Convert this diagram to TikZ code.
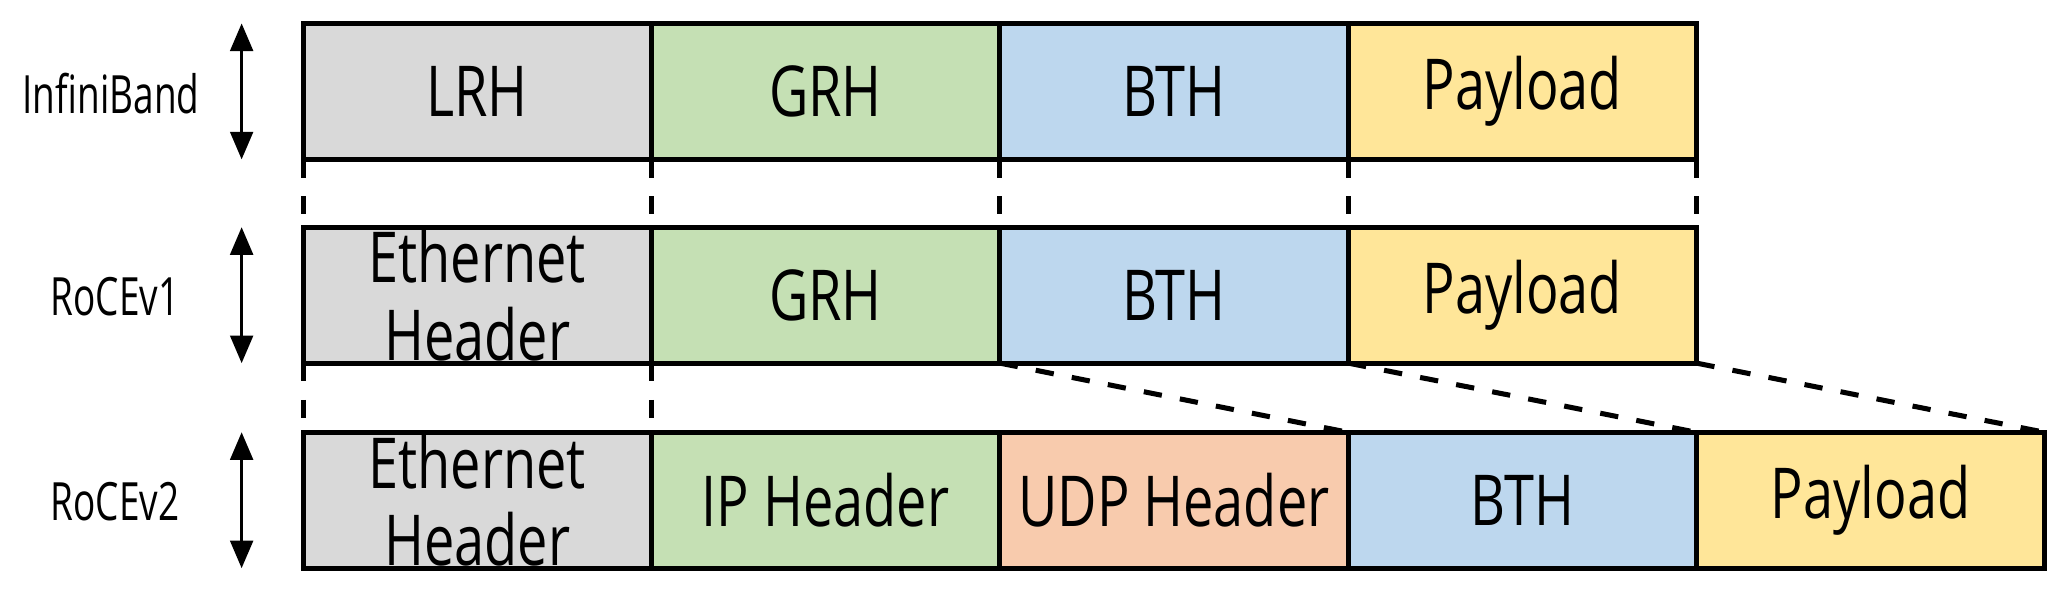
\documentclass[tikz,border=0pt]{standalone}
\usepackage{fontspec}
\setmainfont[FakeStretch=0.7]{Open Sans}
\newfontfamily\boxfont[FakeStretch=0.77]{Open Sans}
\usepackage{tikz}
\usetikzlibrary{positioning,calc,arrows.meta}
\definecolor{hdrgray}{HTML}{D9D9D9}
\definecolor{hdrgreen}{HTML}{C5E0B4}
\definecolor{hdrblue}{HTML}{BDD7EE}
\definecolor{hdryellow}{HTML}{FFE699}
\definecolor{hdrorange}{HTML}{F8CBAD}

\begin{document}
\begin{tikzpicture}[
    every node/.style={
        inner sep=0pt,
        outer sep=0pt,
    },
    hdr/.style={
        draw=black,
        line width=1.1pt,
        minimum width=2.667cm,
        minimum height=1.04cm,
        align=center,
        font=\boxfont\fontsize{15.3}{16.8}\selectfont,
    },
    rowlabel/.style={
        font=\fontsize{11.5}{13}\selectfont,
    },
    updown/.style={
        {Triangle[width=5pt,length=6pt]}-{Triangle[width=5pt,length=6pt]},
        line width=0.5pt,
    },
    dashline/.style={
        dash pattern=on 4pt off 4pt,
        line width=1.1pt,
    },
  ]
  \useasboundingbox (0,0) rectangle (15.68,-4.60);

  % InfiniBand
  \node [hdr,fill=hdrgray,anchor=north west] (ibLRH) at (2.32,-0.18) {LRH};
  \node [hdr,fill=hdrgreen,right=0pt of ibLRH] (ibGRH) {GRH};
  \node [hdr,fill=hdrblue,right=0pt of ibGRH] (ibBTH) {BTH};
  \node [hdr,fill=hdryellow,right=0pt of ibBTH] (ibPay) {Payload};

  % RoCEv1
  \node [hdr,fill=hdrgray,anchor=north west] (vaEth) at (2.32,-1.74) {Ethernet\\Header};
  \node [hdr,fill=hdrgreen,right=0pt of vaEth] (vaGRH) {GRH};
  \node [hdr,fill=hdrblue,right=0pt of vaGRH] (vaBTH) {BTH};
  \node [hdr,fill=hdryellow,right=0pt of vaBTH] (vaPay) {Payload};

  % RoCEv2
  \node [hdr,fill=hdrgray,anchor=north west] (vbEth) at (2.32,-3.31) {Ethernet\\Header};
  \node [hdr,fill=hdrgreen,right=0pt of vbEth] (vbIP) {IP Header};
  \node [hdr,fill=hdrorange,right=0pt of vbIP] (vbUDP) {UDP Header};
  \node [hdr,fill=hdrblue,right=0pt of vbUDP] (vbBTH) {BTH};
  \node [hdr,fill=hdryellow,right=0pt of vbBTH] (vbPay) {Payload};

  % row labels and arrows
  \node [rowlabel] (ibName) at (0.85,-0.72) {InfiniBand};
  \node [rowlabel] (vaName) at (0.88,-2.27) {RoCEv1};
  \node [rowlabel] (vbName) at (0.88,-3.84) {RoCEv2};
  \draw [updown] ($(ibLRH.north west)+(-0.47,0)$) -- ($(ibLRH.south west)+(-0.47,0)$);
  \draw [updown] ($(vaEth.north west)+(-0.47,0)$) -- ($(vaEth.south west)+(-0.47,0)$);
  \draw [updown] ($(vbEth.north west)+(-0.47,0)$) -- ($(vbEth.south west)+(-0.47,0)$);

  % InfiniBand -> RoCEv1
  \draw [dashline] (ibLRH.south west) -- (vaEth.north west);
  \draw [dashline] (ibGRH.south west) -- (vaGRH.north west);
  \draw [dashline] (ibBTH.south west) -- (vaBTH.north west);
  \draw [dashline] (ibPay.south west) -- (vaPay.north west);
  \draw [dashline] (ibPay.south east) -- (vaPay.north east);

  % RoCEv1 -> RoCEv2
  \draw [dashline] (vaEth.south west) -- (vbEth.north west);
  \draw [dashline] (vaGRH.south west) -- (vbIP.north west);
  \draw [dashline] (vaBTH.south west) -- (vbBTH.north west);
  \draw [dashline] (vaPay.south west) -- (vbPay.north west);
  \draw [dashline] (vaPay.south east) -- (vbPay.north east);
\end{tikzpicture}
\end{document}
